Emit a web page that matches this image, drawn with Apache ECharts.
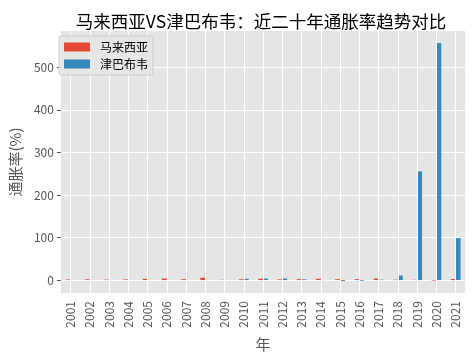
<!DOCTYPE html>
<html>
<head>
<meta charset="utf-8">
<script src="https://cdn.jsdelivr.net/npm/echarts@6/dist/echarts.min.js"></script>
<style>html,body{margin:0;padding:0;background:#fff;}#c{width:474px;height:357px;}</style>
</head>
<body>
<div id="c"></div>
<script>
const years = ['2001','2002','2003','2004','2005','2006','2007','2008','2009','2010','2011','2012','2013','2014','2015','2016','2017','2018','2019','2020','2021'];
const malaysia = [1.42,1.81,0.99,1.52,2.96,3.61,2.03,5.44,0.58,1.71,3.20,1.66,2.11,3.14,2.10,2.09,3.87,0.88,0.66,-1.14,2.48];
const zimbabwe = [null,null,null,null,null,null,null,null,null,3.03,3.47,3.72,1.63,-0.22,-2.41,-1.56,0.91,10.61,255.30,557.20,98.55];
const yTicks = [0,100,200,300,400,500];
const seriesNames = ['马来西亚','津巴布韦'];

const font = '"Noto Sans CJK SC", "Noto Sans", sans-serif';
const chart = echarts.init(document.getElementById('c'), null, {renderer:'canvas'});
chart.setOption({
  animation: false,
  backgroundColor: '#ffffff',
  textStyle: {fontFamily: font},
  title: {
    text: '马来西亚VS津巴布韦：近二十年通胀率趋势对比',
    left: 256, top: 8, textAlign: 'center',
    textStyle: {fontSize: 17.5, fontWeight: 'normal', color: '#000', fontFamily: font}
  },
  legend: {
    data: seriesNames,
    orient: 'vertical',
    left: 59, top: 36, z: 20,
    padding: [5, 5, 5, 5],
    itemWidth: 26, itemHeight: 9, itemGap: 5,
    backgroundColor: 'rgba(229,229,229,0.9)',
    borderColor: '#cccccc', borderWidth: 1, borderRadius: 2,
    icon: 'rect',
    textStyle: {fontSize: 12, color: '#000', padding: [0,0,0,5], fontFamily: font}
  },
  grid: {left: 53.7, right: 8.7, top: 31, bottom: 61.5, show: true, backgroundColor: '#E5E5E5', borderWidth: 0},
  xAxis: {
    type: 'category', data: years,
    name: '年', nameLocation: 'middle', nameGap: 44,
    nameTextStyle: {fontSize: 15, color: '#555555', fontFamily: font},
    axisLine: {show: false},
    axisTick: {show: true, alignWithLabel: true, length: 4, lineStyle: {color: '#555555'}},
    axisLabel: {rotate: 90, fontSize: 12, color: '#555555', margin: 8, interval: 0, fontFamily: font},
    splitLine: {show: false}
  },
  yAxis: {
    type: 'value', min: -30.39, max: 585.18,
    name: '通胀率(%)', nameLocation: 'middle', nameGap: 37,
    nameTextStyle: {fontSize: 15, color: '#555555', fontFamily: font},
    axisLine: {show: false},
    axisTick: {show: true, length: 4, lineStyle: {color: '#555555'}, customValues: yTicks},
    axisLabel: {fontSize: 12, color: '#555555', margin: 7, customValues: yTicks, fontFamily: font},
    splitLine: {show: true, lineStyle: {color: '#ffffff', width: 1}}
  },
  series: [
    {
      name: 'grid', type: 'line', data: years.map(() => null), z: 1, silent: true,
      markLine: {
        silent: true, symbol: 'none', label: {show: false},
        lineStyle: {color: '#ffffff', width: 1, type: 'solid'},
        data: years.map((y) => ({xAxis: y}))
      }
    },
    {name: seriesNames[0], type: 'bar', data: malaysia, barWidth: 4.9, barGap: '0%', itemStyle: {color: '#E24A33'}, z: 2},
    {name: seriesNames[1], type: 'bar', data: zimbabwe, barWidth: 4.9, barGap: '0%', itemStyle: {color: '#348ABD'}, z: 2}
  ]
});
</script>
</body>
</html>
